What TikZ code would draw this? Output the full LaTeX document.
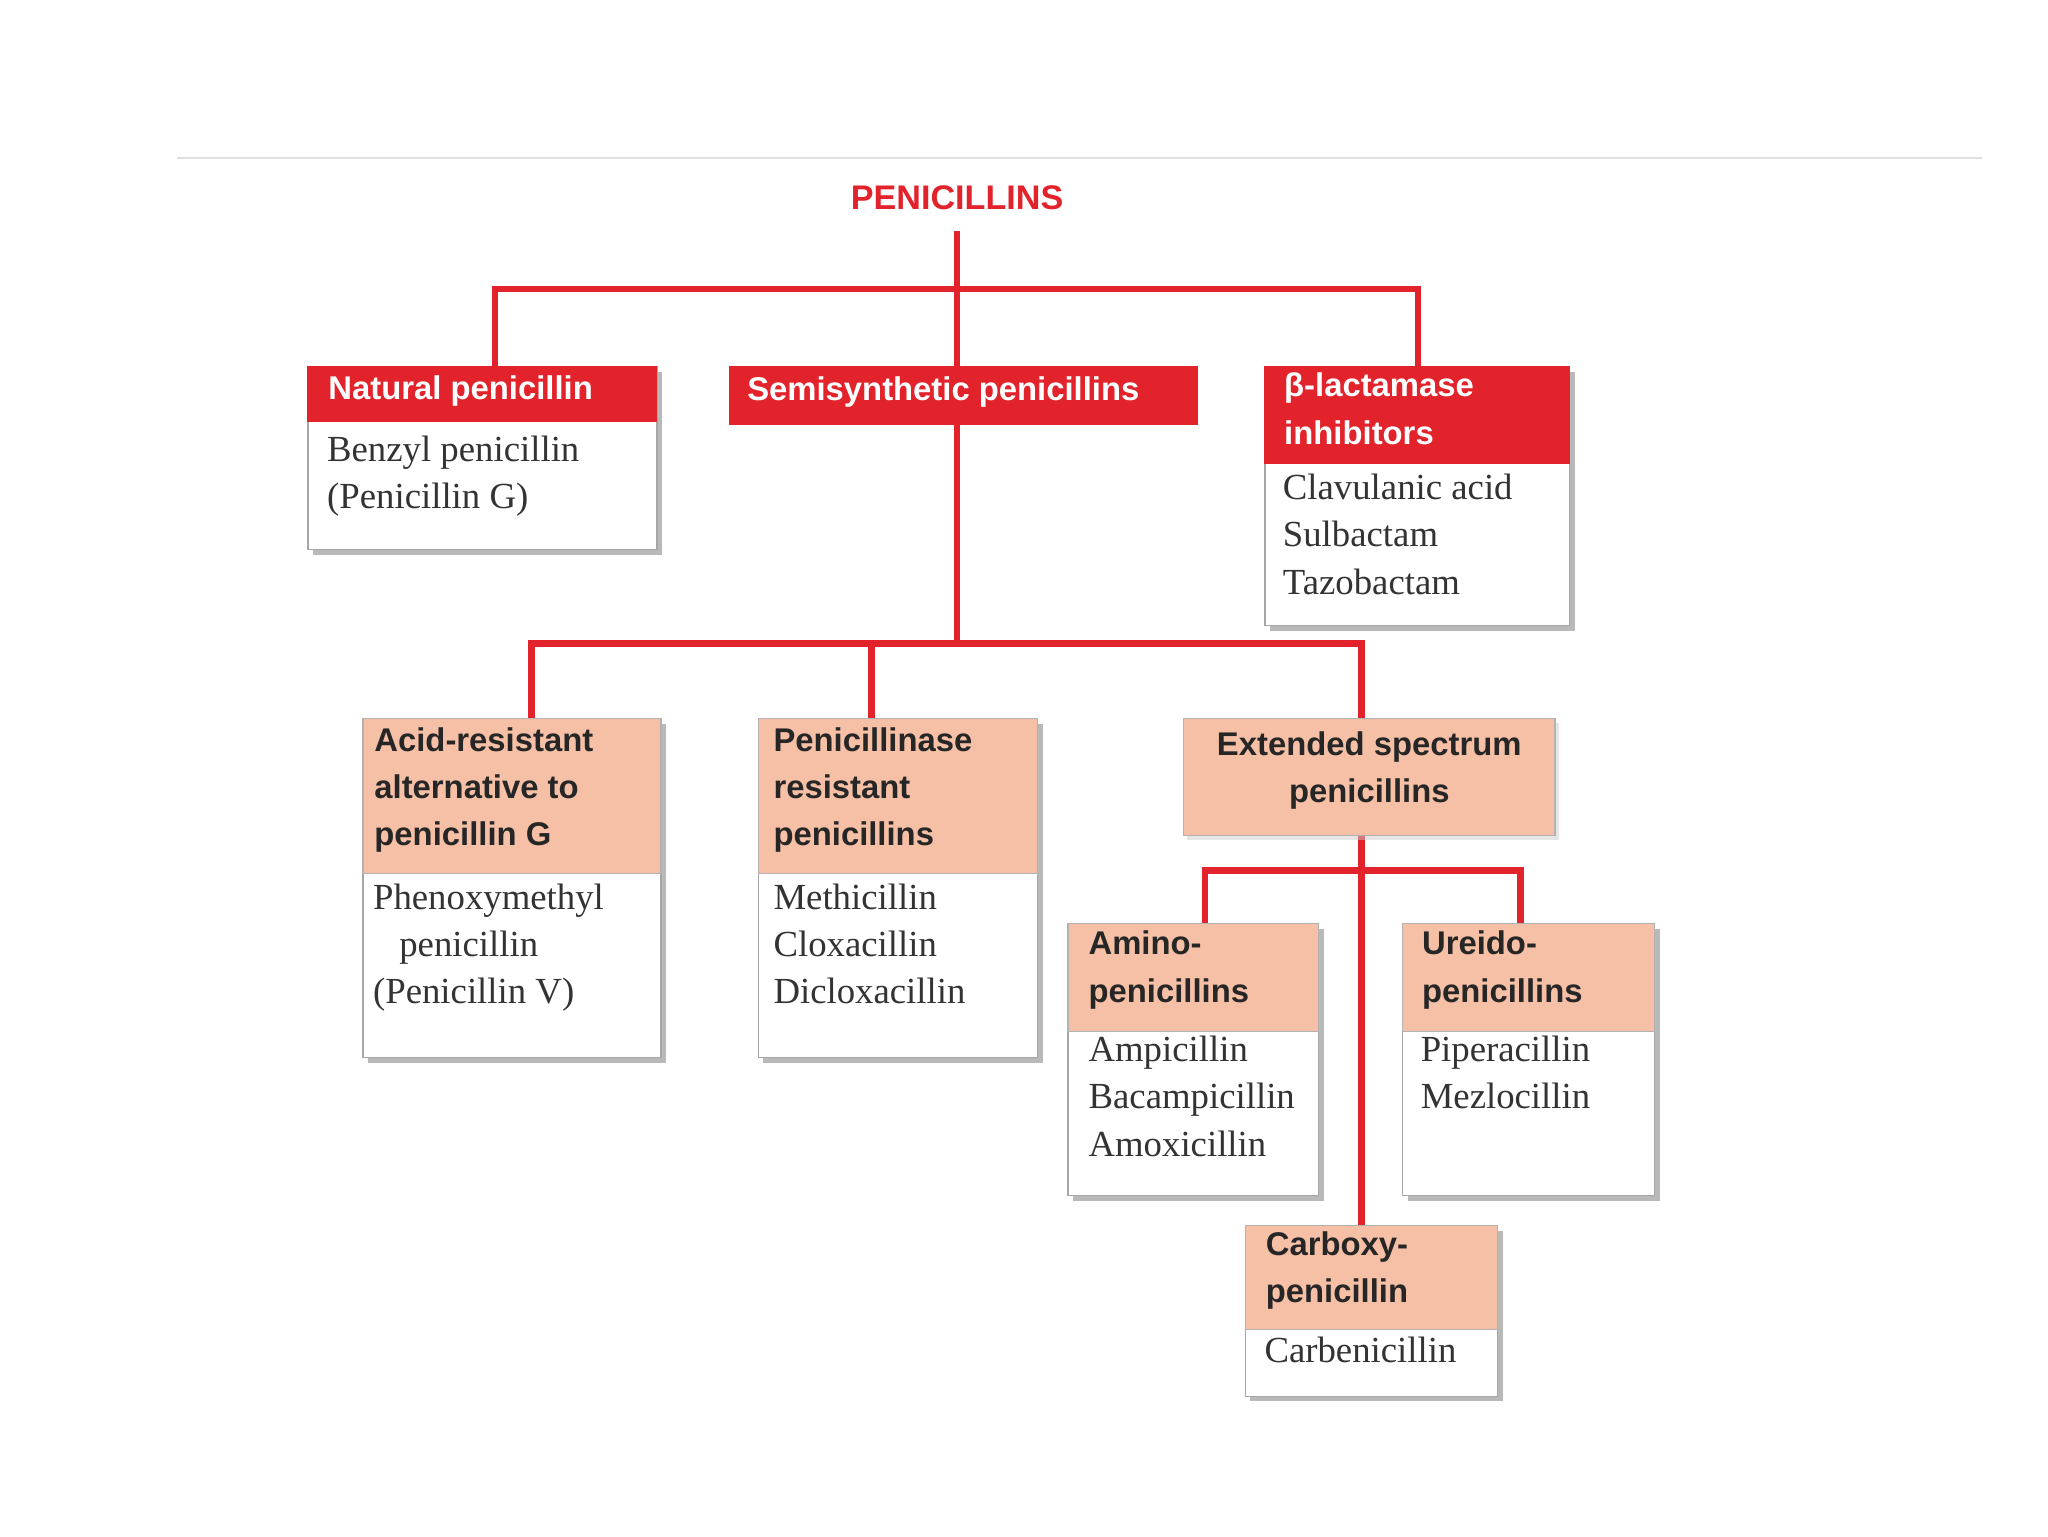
\documentclass[tikz,border=0pt]{standalone}
\usepackage{fontspec}
\setmainfont{Liberation Serif}
\setsansfont{Liberation Sans}
\usetikzlibrary{shadows}
\definecolor{pred}{HTML}{E3232B}
\definecolor{psal}{HTML}{F6C0A6}
\tikzset{
 box/.style={draw=gray!70,line width=1pt,fill=white,anchor=north west,inner sep=0pt,
   drop shadow={shadow xshift=4pt,shadow yshift=-4pt,fill=gray!55,opacity=1}},
 redhead/.style={fill=pred,draw=pred,anchor=north west,inner sep=0pt},
 salhead/.style={fill=psal,draw=gray!60,line width=1pt,anchor=north west,inner sep=0pt},
 htxt/.style={font=\sffamily\bfseries\fontsize{25}{36}\selectfont,anchor=north west,align=left,inner sep=0pt},
 btxt/.style={font=\fontsize{28}{36}\selectfont,text=black!80,anchor=north west,align=left,inner sep=0pt},
 conn/.style={draw=pred,line width=5pt}
}
\begin{document}
\begin{tikzpicture}[x=1pt,y=-1pt]
\useasboundingbox (0,0) rectangle (1560,1170);
\draw[gray!25,line width=1.5pt] (135,120) -- (1510,120);
\node[font=\sffamily\bfseries\fontsize{26}{30}\selectfont,text=pred] (title) at (729,151) {PENICILLINS};
% connectors
\coordinate (t1) at (729,176);
\coordinate (j1) at (729,220);
\coordinate (l1) at (377,220);
\coordinate (r1) at (1080,220);
\coordinate (j2) at (729,490);
\coordinate (l2) at (405,490);
\coordinate (m2) at (664,490);
\coordinate (r2) at (1037,490);
\coordinate (j3) at (1037,663);
\coordinate (l3) at (918,663);
\coordinate (r3) at (1158,663);
\draw[conn] (t1) -- (j2);
\draw[conn] (377,281) -- (l1) -- (r1) -- (1080,281);
\draw[conn] (405,549) -- (l2) -- (r2) -- (1037,935);
\draw[conn] (m2) -- (664,549);
\draw[conn] (918,705) -- (l3) -- (r3) -- (1158,705);
% Natural
\node[box,minimum width=266,minimum height=139] (nb) at (234,279) {};
\node[redhead,minimum width=266,minimum height=42] (nh) at (234,279) {};
\node[htxt,text=white] (nht) at (250,286) {Natural penicillin};
\node[btxt] (nbt) at (249,332) {Benzyl penicillin\\(Penicillin G)};
% Semisynthetic
\node[redhead,minimum width=357,minimum height=44] (sh) at (555,279) {};
\node[htxt,text=white] (sht) at (569,287) {Semisynthetic penicillins};
% beta
\node[box,minimum width=232,minimum height=197] (bb) at (963,279) {};
\node[redhead,minimum width=232,minimum height=74] (bh) at (963,279) {};
\node[htxt,text=white] (bht) at (978,284) {β-lactamase\\inhibitors};
\node[btxt] (bbt) at (977,361) {Clavulanic acid\\Sulbactam\\Tazobactam};
% Acid-resistant
\node[box,minimum width=227,minimum height=258] (ab) at (276,547) {};
\node[salhead,minimum width=227,minimum height=118] (ah) at (276,547) {};
\node[htxt,text=black!85] (aht) at (285,554) {Acid-resistant\\alternative to\\penicillin G};
\node[btxt] (abt) at (284,673) {Phenoxymethyl\\\hspace*{20pt}penicillin\\(Penicillin V)};
% Penicillinase
\node[box,minimum width=213,minimum height=258] (pb) at (577,547) {};
\node[salhead,minimum width=213,minimum height=118] (ph) at (577,547) {};
\node[htxt,text=black!85] (pht) at (589,554) {Penicillinase\\resistant\\penicillins};
\node[btxt] (pbt) at (589,673) {Methicillin\\Cloxacillin\\Dicloxacillin};
% Extended
\node[salhead,minimum width=283,minimum height=89,
  drop shadow={shadow xshift=3pt,shadow yshift=-3pt,fill=gray!40}] (eh) at (901,547) {};
\node[htxt,text=black!85,align=center,anchor=north] (eht) at (1043,557) {Extended spectrum\\penicillins};
% Amino
\node[box,minimum width=191,minimum height=207] (mb) at (813,703) {};
\node[salhead,minimum width=191,minimum height=82] (mh) at (813,703) {};
\node[htxt,text=black!85] (mht) at (829,709) {Amino-\\penicillins};
\node[btxt] (mbt) at (829,789) {Ampicillin\\Bacampicillin\\Amoxicillin};
% Ureido
\node[box,minimum width=192,minimum height=207] (ub) at (1068,703) {};
\node[salhead,minimum width=192,minimum height=82] (uh) at (1068,703) {};
\node[htxt,text=black!85] (uht) at (1083,709) {Ureido-\\penicillins};
\node[btxt] (ubt) at (1082,789) {Piperacillin\\Mezlocillin};
% Carboxy
\node[box,minimum width=192,minimum height=130] (cb) at (948,933) {};
\node[salhead,minimum width=192,minimum height=79] (ch) at (948,933) {};
\node[htxt,text=black!85] (cht) at (964,938) {Carboxy-\\penicillin};
\node[btxt] (cbt) at (963,1018) {Carbenicillin};
\end{tikzpicture}
\end{document}
